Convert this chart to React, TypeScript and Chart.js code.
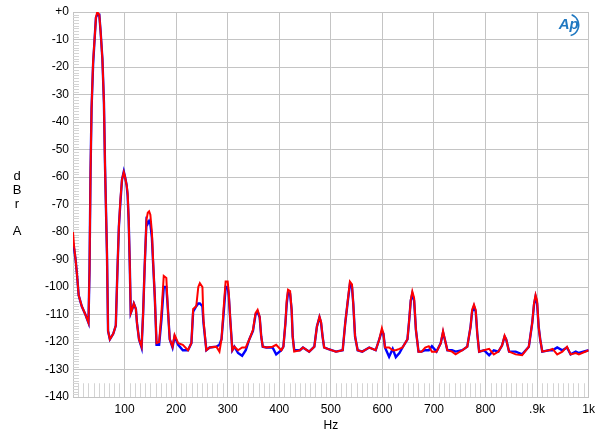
import React, { useEffect, useRef } from "react";
import { Chart, registerables } from "chart.js";

Chart.register(...registerables);

const freqsHz = [
  0, 2, 5, 8, 11, 17, 24, 30, 32, 34, 36, 39, 42.5, 44.5, 47, 49, 51, 53.5, 57, 60,
  62, 66, 68, 71.5, 78, 83, 86, 89, 92, 95, 98.5, 101, 104, 106, 108, 110, 112, 115, 118, 122,
  124, 128, 133, 136, 139, 142.5, 145, 147.6, 150, 153, 155, 158.6, 162, 167, 171.5, 176, 181, 184, 187.6, 193,
  197, 204, 213, 223, 229.6, 233, 239, 243, 246, 251, 253, 258.6, 265, 278, 284, 288, 292, 296, 300, 302,
  305, 309, 313, 320, 328, 335, 342, 349, 354, 358, 362, 365, 368, 375, 387, 394, 404, 408, 412, 414.5,
  417, 421, 424, 426, 429, 440, 446, 458, 468, 473, 478, 481, 484, 487, 494, 510, 523, 528, 533, 537,
  541, 543.5, 547, 552, 561, 574.5, 587, 594, 599, 602, 605, 613, 620, 626, 633, 639, 648.6, 652, 655, 658,
  661.5, 665, 670, 676, 683, 690, 696, 705, 713, 717.6, 721, 726, 735, 742, 755, 764.6, 771, 774, 777.6, 781,
  784, 787.6, 797, 807, 816, 825, 832, 837, 840, 845.6, 858.5, 871, 884, 890.6, 894, 897, 900, 903, 906, 910,
  923, 930, 939, 949, 958, 965, 975, 981, 1000,
];

const redDb = [
  -80, -85, -90, -96, -103, -107, -110, -113, -94, -58, -35, -18, -8, -2, 0, -0.5, -1, -7, -17, -33,
  -55, -89, -116, -119, -117, -114, -95, -78, -68, -61, -58.3, -60, -63, -66, -75.6, -91, -109.5, -108, -106, -108,
  -113, -119, -121.7, -109.5, -92.5, -75.6, -73, -72.5, -73.7, -80, -89, -103.5, -120.4, -120, -109.5, -96, -96.7, -108, -119, -121.7,
  -117.4, -120.4, -121, -123, -120.4, -108, -107, -100, -98.6, -100, -112, -123, -122, -121.7, -123.5, -119, -108, -98, -98, -102,
  -112, -123, -121.7, -123, -122, -122, -119, -115.6, -109.5, -108.3, -110.8, -118, -121.7, -122, -121.7, -121, -123, -121.7, -113, -104.7,
  -101, -101.5, -108.3, -118, -123.5, -123, -122, -123.5, -121.7, -114.4, -110.8, -112.6, -118, -122, -122.5, -123.5, -123, -113, -104.7, -98,
  -99, -106, -118, -123, -123.5, -122, -123, -119, -115, -117, -122, -122, -123, -123, -122.5, -122, -119, -112, -104.7, -101.6,
  -104, -115.6, -123.5, -123.5, -122, -121.5, -123.5, -123.5, -120.5, -116, -119, -123, -123.5, -124.5, -123, -121.7, -114.4, -108.3, -106.4, -108.3,
  -117, -123.5, -123, -122.5, -124.5, -123.5, -121.3, -117.7, -119, -123.5, -124.5, -124.8, -121.7, -113, -106, -102.9, -105, -114.4, -119, -123.5,
  -123, -122.5, -124.5, -123.5, -121.7, -124.5, -124, -124.5, -123,
];

const blueDb = [
  -84, -86, -90, -96, -103, -107, -110, -113, -94, -58, -35, -19, -8, -2, -1, -1, -1, -7, -17, -33,
  -55, -89, -116, -119, -117, -114, -95, -78, -69, -61, -58, -60, -63, -67, -76, -91, -109.5, -108, -106, -108,
  -113, -119, -122, -109.5, -92.5, -76, -77, -76, -77, -82, -90, -103.5, -121, -121, -112, -100, -100, -108, -119, -122,
  -118, -121, -123, -123, -120.4, -109, -107, -106, -106, -107, -113, -123, -122, -121.7, -121, -119, -110, -100, -100, -103,
  -112, -123, -121.7, -124, -125, -123, -119, -116, -110, -109, -111, -118, -121.7, -122, -122, -124.5, -123, -121.7, -113, -106,
  -102, -102.5, -108.3, -118, -123, -123, -122, -123.5, -121.7, -114.4, -111, -113, -118, -122, -122.5, -123.5, -123, -113, -105, -99,
  -100, -106, -118, -123, -123.5, -122, -123, -119, -116, -117, -122, -125.4, -122.5, -125.5, -124, -122, -119, -112, -105, -102.5,
  -105, -115.6, -123.5, -123.5, -123, -123, -121.5, -123.5, -120.5, -116.5, -119, -123, -123, -123.5, -123, -121.7, -114.4, -109, -107, -109,
  -117, -123.5, -123, -124.8, -123, -123.5, -121.3, -118, -119, -123.5, -123.5, -124.5, -121.7, -113, -106.5, -103.5, -106, -114.4, -119, -123.5,
  -123, -123, -122, -123, -122, -124.5, -123.5, -124, -123,
];

const xTickLabels: Record<number, string> = {
  100: "100", 200: "200", 300: "300", 400: "400", 500: "500",
  600: "600", 700: "700", 800: "800", 900: ".9k", 1000: "1k",
};
const yAxisLetters = ["d", "B", "r", "", "A"];
const xTitle = "Hz";
const logoText = "Ap";

const FONT = "'Liberation Sans', Arial, sans-serif";

const decorPlugin = {
  id: "decor",
  beforeDatasetsDraw(chart: any) {
    const { ctx, chartArea, scales } = chart;
    const x = scales.x;
    const y = scales.y;
    ctx.save();
    ctx.strokeStyle = "#d4d4d4";
    ctx.lineWidth = 1;
    ctx.beginPath();
    for (let v = -139; v < 0; v++) {
      if (v % 10 === 0) continue;
      const py = Math.round(y.getPixelForValue(v)) + 0.5;
      ctx.moveTo(chartArea.left, py);
      ctx.lineTo(chartArea.left + 6, py);
    }
    const yTop = y.getPixelForValue(-135);
    const yBot = y.getPixelForValue(-140);
    for (let f = 10; f < 1000; f += 10) {
      if (f % 100 === 0) continue;
      const px = Math.round(x.getPixelForValue(f)) + 0.5;
      ctx.moveTo(px, yTop);
      ctx.lineTo(px, yBot);
    }
    ctx.stroke();
    ctx.restore();
  },
  afterDraw(chart: any) {
    const { ctx, chartArea } = chart;
    ctx.save();
    ctx.fillStyle = "#000";
    ctx.font = `13px ${FONT}`;
    ctx.textAlign = "center";
    ctx.textBaseline = "middle";
    const cy = (chartArea.top + chartArea.bottom) / 2;
    const lh = 13.8;
    const start = cy - 28;
    yAxisLetters.forEach((t, i) => {
      if (t) ctx.fillText(t, 17, start + i * lh);
    });
    // logo
    const lx = chartArea.right - 18;
    const ly = chartArea.top + 13;
    ctx.fillStyle = "#1f78c1";
    ctx.strokeStyle = "#1f78c1";
    ctx.font = `italic bold 15px ${FONT}`;
    ctx.fillText(logoText, lx - 2, ly);
    ctx.lineWidth = 1.6;
    ctx.beginPath();
    ctx.arc(lx - 3, ly, 11, -1.2, 1.3);
    ctx.stroke();
    ctx.restore();
  },
};

export default function App() {
  const ref = useRef<HTMLCanvasElement | null>(null);
  useEffect(() => {
    if (!ref.current) return;
    const red = freqsHz.map((f, i) => ({ x: f, y: redDb[i] }));
    const blue = freqsHz.map((f, i) => ({ x: f, y: blueDb[i] }));
    const chart = new Chart(ref.current, {
      type: "line",
      data: {
        datasets: [
          { data: red, borderColor: "#ff0000", borderWidth: 2, pointRadius: 0, tension: 0, fill: false },
          { data: blue, borderColor: "#0000ff", borderWidth: 2.4, pointRadius: 0, tension: 0, fill: false },
        ],
      },
      options: {
        animation: false,
        responsive: false,
        devicePixelRatio: 1,
        events: [],
        layout: { padding: { left: 0, top: 12, right: 10, bottom: 0 } },
        plugins: { legend: { display: false }, tooltip: { enabled: false } },
        scales: {
          x: {
            type: "linear",
            min: 0,
            max: 1000,
            afterFit: (s: any) => { s.height = 44; },
            ticks: {
              stepSize: 100,
              autoSkip: false,
              maxRotation: 0,
              padding: 5,
              color: "#000",
              font: { family: FONT, size: 12 },
              callback: (v: any) => xTickLabels[v as number] ?? "",
            },
            grid: { color: "#c4c4c4", drawTicks: false, lineWidth: 1 },
            border: { color: "#c4c4c4" },
            title: {
              display: true,
              text: xTitle,
              color: "#000",
              font: { family: FONT, size: 12 },
              padding: { top: 0, bottom: 8 },
            },
          },
          y: {
            type: "linear",
            min: -140,
            max: 0,
            afterFit: (s: any) => { s.width = 73; },
            ticks: {
              stepSize: 10,
              autoSkip: false,
              padding: 4,
              color: "#000",
              font: { family: FONT, size: 12 },
              callback: (v: any) => (v === 0 ? "+0" : String(v)),
            },
            grid: { color: "#c4c4c4", drawTicks: false, lineWidth: 1 },
            border: { color: "#c4c4c4" },
          },
        },
      },
      plugins: [decorPlugin],
    });
    return () => chart.destroy();
  }, []);
  return (
    <div style={{ position: "fixed", left: 0, top: 0, width: 600, height: 441, background: "#fff" }}>
      <canvas ref={ref} width={600} height={441} style={{ width: 600, height: 441, display: "block" }} />
    </div>
  );
}
